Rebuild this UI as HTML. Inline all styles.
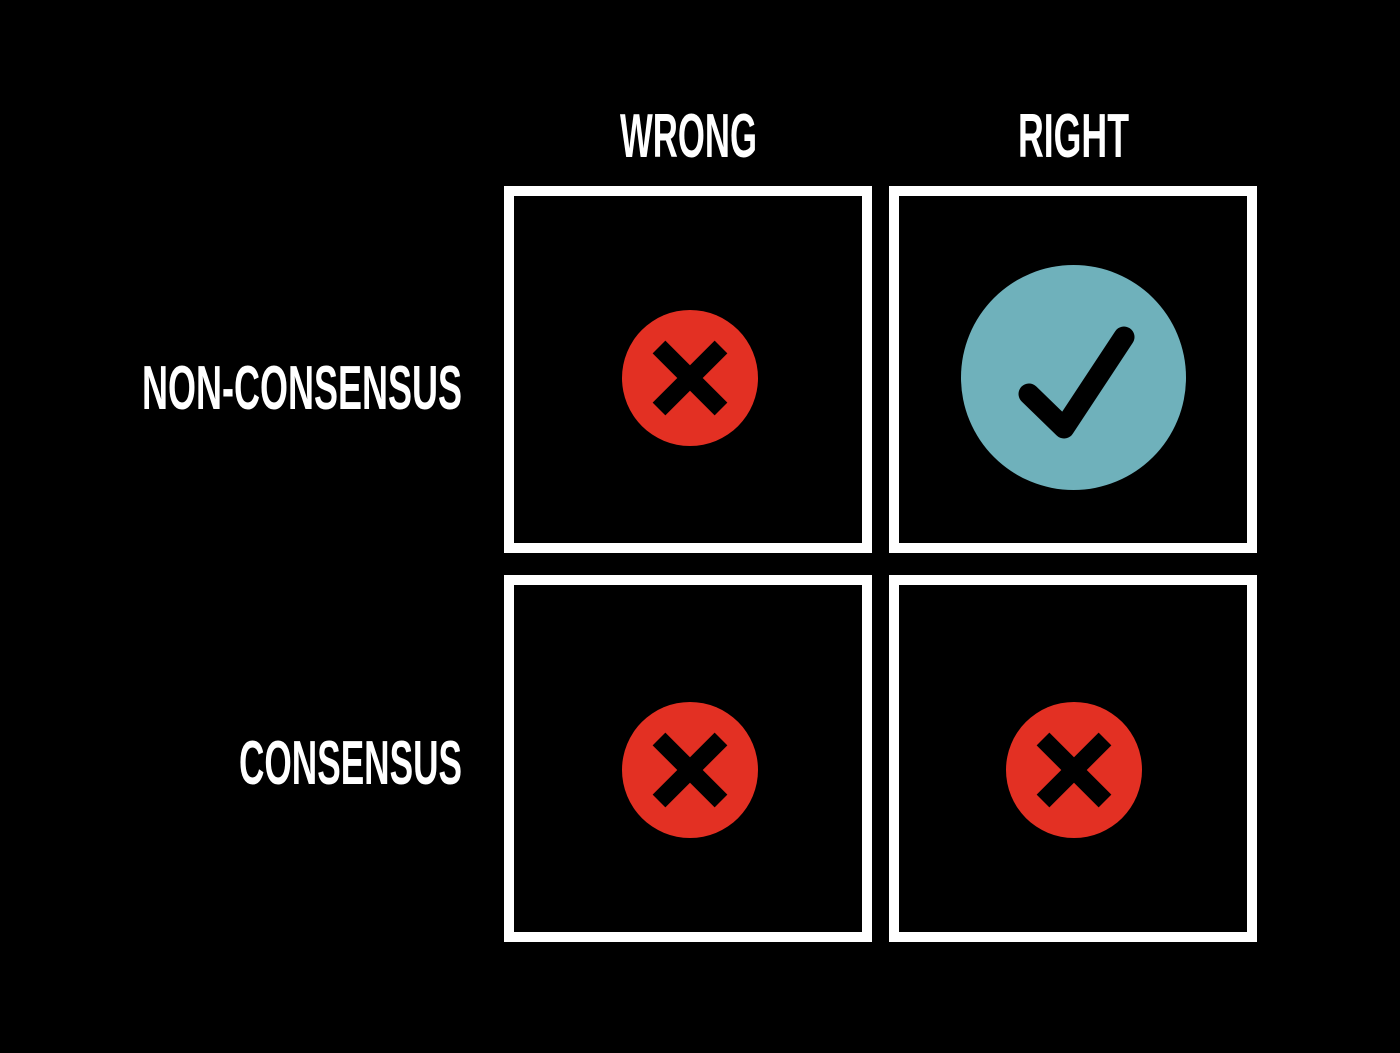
<!DOCTYPE html>
<html><head><style>
html,body{margin:0;padding:0;background:#000;}
svg{display:block}
</style></head><body>
<svg width="1400" height="1053" viewBox="0 0 1400 1053" xmlns="http://www.w3.org/2000/svg">
<rect width="1400" height="1053" fill="#000"/>
<g font-family="Liberation Sans, sans-serif" font-weight="bold" font-size="62" fill="#fff">
<text x="620" y="157" textLength="137" lengthAdjust="spacingAndGlyphs">WRONG</text>
<text x="1018" y="157" textLength="111" lengthAdjust="spacingAndGlyphs">RIGHT</text>
<text x="142" y="409" textLength="320" lengthAdjust="spacingAndGlyphs">NON-CONSENSUS</text>
<text x="239" y="784" textLength="223" lengthAdjust="spacingAndGlyphs">CONSENSUS</text>
</g>
<g fill="none" stroke="#fff" stroke-width="10">
<rect x="509" y="191" width="358" height="357"/>
<rect x="894" y="191" width="358" height="357"/>
<rect x="509" y="580" width="358" height="357"/>
<rect x="894" y="580" width="358" height="357"/>
</g>
<circle cx="1073.5" cy="377.5" r="112.5" fill="#6fb1bb"/>
<polyline points="1029,394 1064,428 1124,337" fill="none" stroke="#000" stroke-width="21" stroke-linejoin="round" stroke-linecap="round"/>
<g>
<circle cx="690" cy="378" r="68" fill="#e33023"/>
<path d="M659,347 L721,409 M721,347 L659,409" stroke="#000" stroke-width="18"/>
<circle cx="690" cy="770" r="68" fill="#e33023"/>
<path d="M659,739 L721,801 M721,739 L659,801" stroke="#000" stroke-width="18"/>
<circle cx="1074" cy="770" r="68" fill="#e33023"/>
<path d="M1043,739 L1105,801 M1105,739 L1043,801" stroke="#000" stroke-width="18"/>
</g>
</svg>
</body></html>
